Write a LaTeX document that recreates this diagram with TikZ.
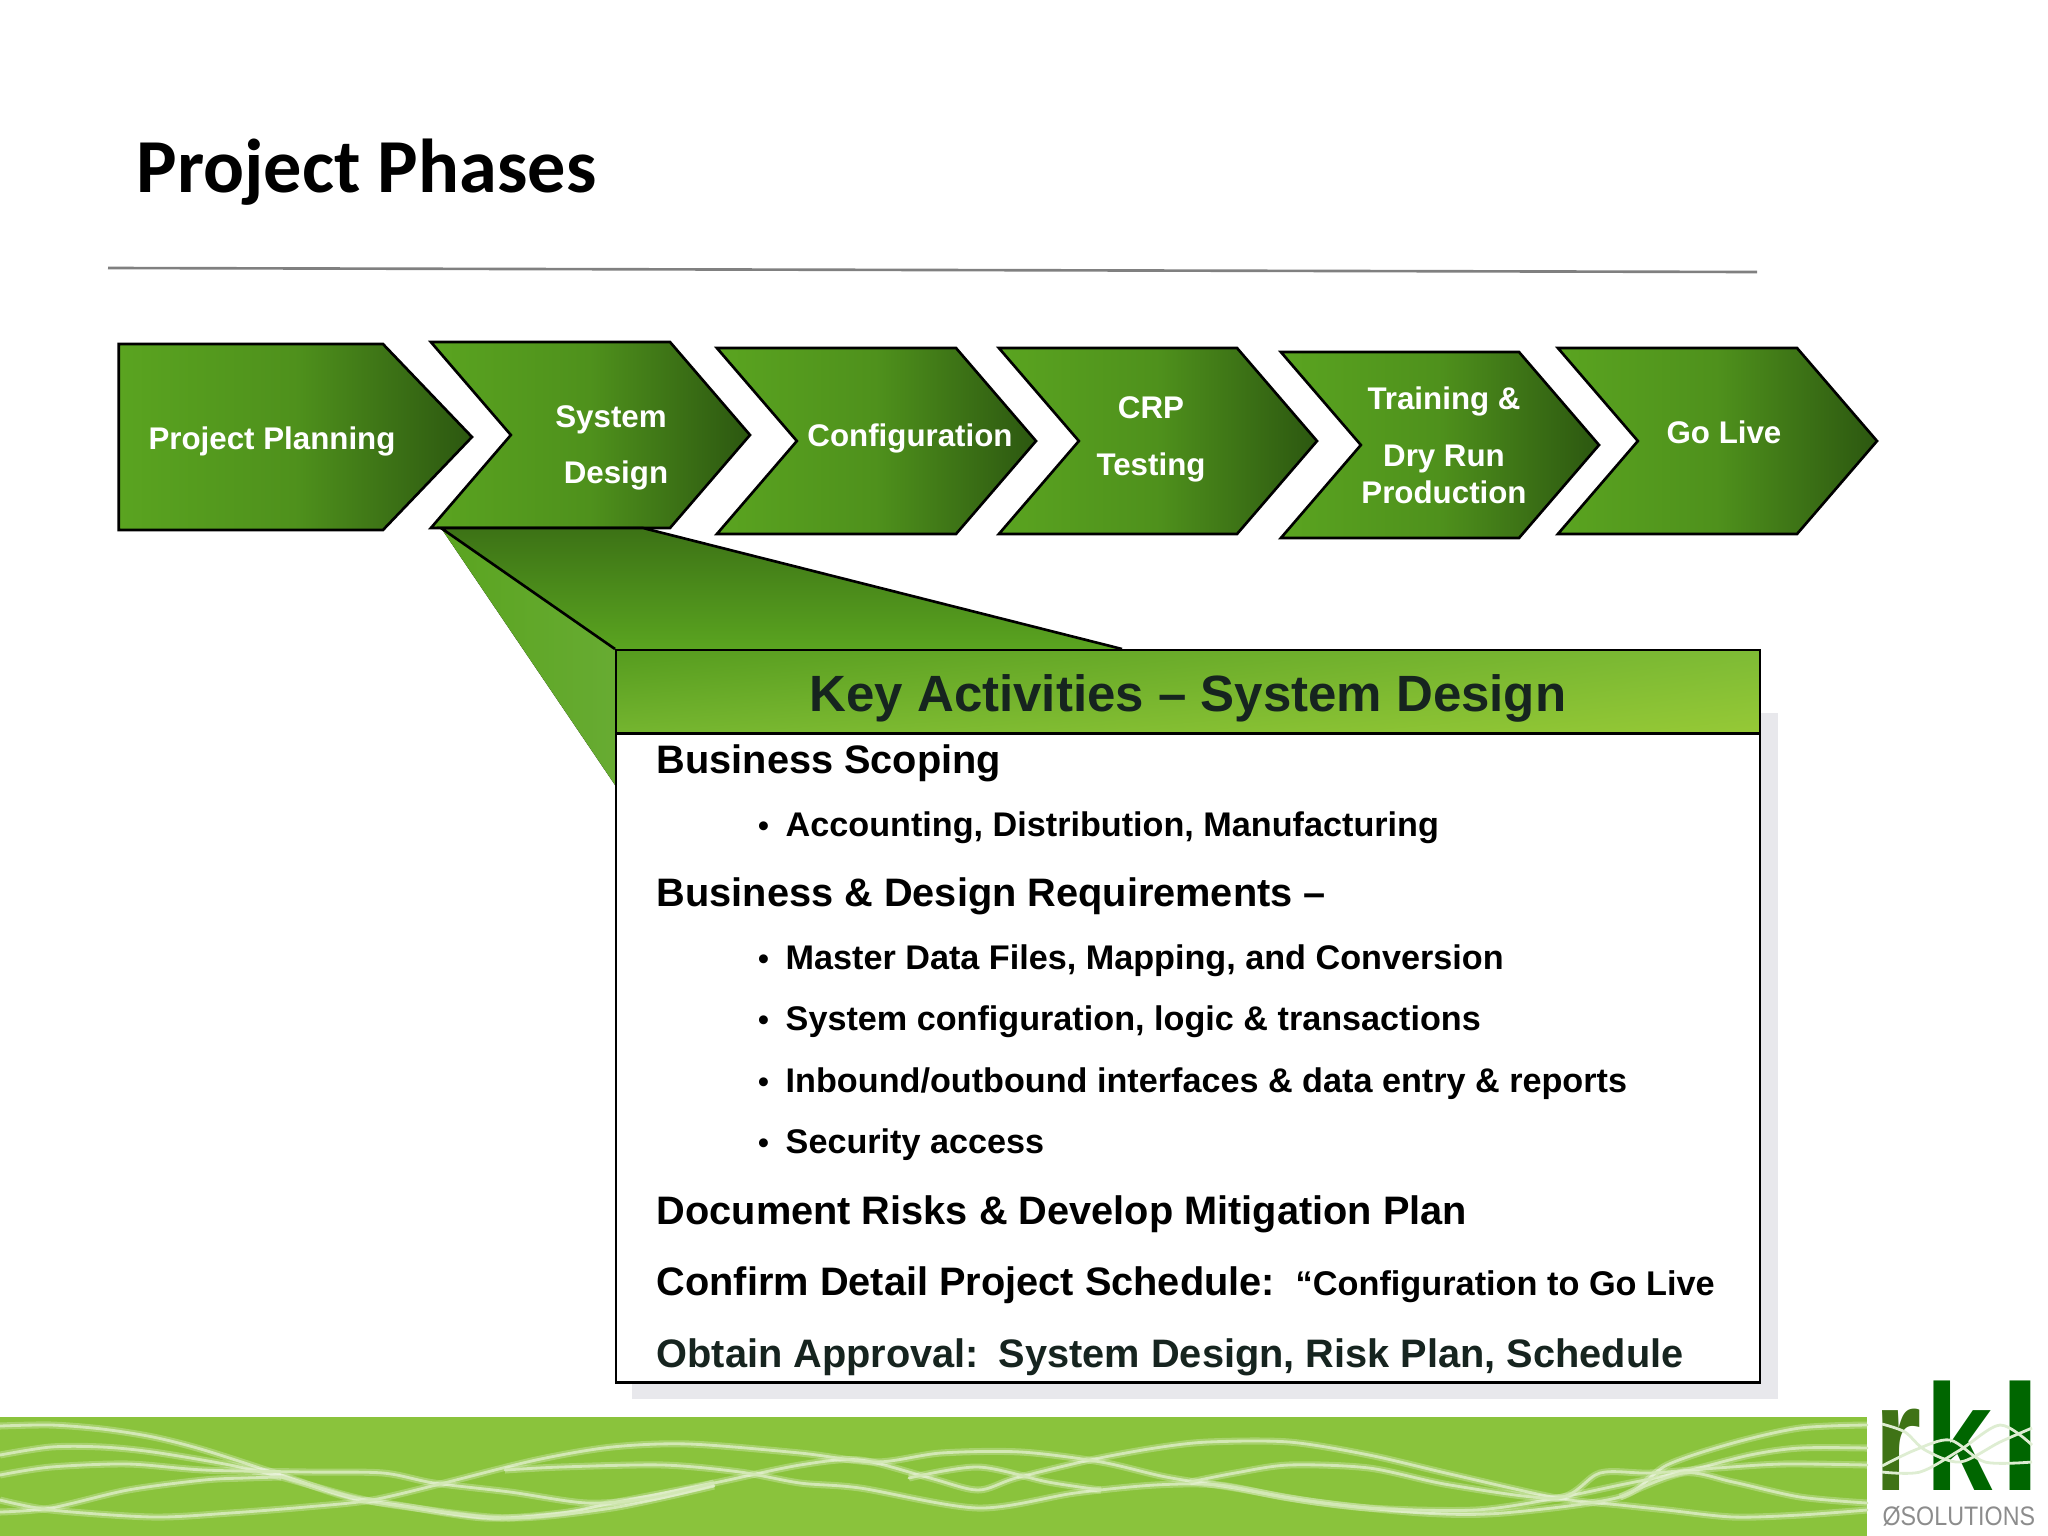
\documentclass[tikz,border=0pt]{standalone}
\usepackage{fontspec}
\setmainfont{Liberation Sans}
\newfontfamily\titlefont{Carlito}
\usepackage{tikz}
\usetikzlibrary{positioning, shapes.symbols, shadings}

\definecolor{leafgreen}{HTML}{5AA420}
\definecolor{pinegreen}{HTML}{2C5710}
\definecolor{barGreen}{HTML}{8AC33C}
\definecolor{headInk}{HTML}{16241F}
\definecolor{shadowGrey}{HTML}{E8E8EC}

\begin{document}
\begin{tikzpicture}[x=0.01cm, y=-0.01cm]

% Define styles
\tikzstyle{phase} = [draw=black, line width=0.75pt, shape=signal, signal to=east, signal from=west, signal pointer angle=98.6, minimum height=1.86cm, inner sep=0pt, outer sep=0pt, left color=leafgreen, right color=pinegreen, middle color=leafgreen!75!pinegreen]
\tikzstyle{phasetext} = [text=white, inner sep=0pt, anchor=base, font=\fontsize{8.9}{10}\selectfont\bfseries]
\tikzstyle{head} = [inner sep=0pt, anchor=base west, font=\fontsize{11.3}{13}\selectfont\bfseries]
\tikzstyle{item} = [inner sep=0pt, anchor=base west, font=\fontsize{9.72}{11}\selectfont\bfseries]
\tikzstyle{wave} = [line width=0.8pt, color=white!62!barGreen, line cap=round, preaction={draw, line width=2pt, color=white, opacity=0.25}]
\tikzstyle{logostreak} = [line width=0.8pt, color=white!80!leafgreen]

\useasboundingbox (0,0) rectangle (2048,1536);

% Title
\node [inner sep=0pt, anchor=base west, font=\fontsize{21.7}{24}\selectfont\titlefont\bfseries] (title) at (136,192) {Project Phases};
\coordinate (ruleL) at (108,268);
\coordinate (ruleR) at (1757,272);
\draw [line width=0.75pt, color=black!50] (ruleL) -- (ruleR);

% Phases
\node [phase, signal from=nowhere, signal pointer angle=92.5, minimum width=3.53cm, anchor=east] (planning) at (472,437) {};
\node [phase, minimum width=3.19cm, anchor=east] (design) at (750,435) {};
\node [phase, minimum width=3.19cm, anchor=east] (config) at (1036,441) {};
\node [phase, minimum width=3.18cm, anchor=east] (crp) at (1317,441) {};
\node [phase, minimum width=3.18cm, anchor=east] (training) at (1599,445) {};
\node [phase, minimum width=3.19cm, anchor=east] (golive) at (1877,441) {};

% Phase labels
\node [phasetext] (planningL) at (272,449) {Project Planning};
\node [phasetext] (designA) at (611,427) {System};
\node [phasetext] (designB) at (616,483) {Design};
\node [phasetext] (configL) at (910,446) {Configuration};
\node [phasetext] (crpA) at (1151,418) {CRP};
\node [phasetext] (crpB) at (1151,475) {Testing};
\node [phasetext] (trainingA) at (1444,409) {Training \&};
\node [phasetext] (trainingB) at (1444,466) {Dry Run};
\node [phasetext] (trainingC) at (1444,503) {Production};
\node [phasetext] (goliveL) at (1724,443) {Go Live};

% Call-out from the second phase to the box
\coordinate (callA) at (441,528);
\coordinate (callB) at (643,528);
\coordinate (callC) at (1122,649);
\coordinate (callD) at (615,649);
\coordinate (callE) at (615,785);
\fill [left color=leafgreen, right color=leafgreen!92!white] (callA) -- (callD) -- (callE) -- cycle;
\fill [top color=leafgreen!35!pinegreen, bottom color=leafgreen] (callA) -- (callB) -- (callC) -- (callD) -- cycle;
\draw [line width=0.75pt] (callD) -- (callA) -- (callB) -- (callC);

% Box with shadow
\fill [color=shadowGrey] (632,713) rectangle (1778,1399);
\node [draw=black, fill=white, line width=0.7pt, inner sep=0pt, anchor=north west, minimum width=11.43cm, minimum height=7.32cm] (box) at (615,649) {};
\node [draw=black, line width=0.7pt, inner sep=0pt, anchor=north west, minimum width=11.43cm, minimum height=0.83cm, upper left=leafgreen!95!black, upper right=barGreen!75!leafgreen, lower left=leafgreen!45!barGreen, lower right=barGreen!90!yellow] (header) at (615,649) {};
\node [text=headInk, inner sep=0pt, anchor=base, font=\fontsize{14.5}{16}\selectfont\bfseries] (headerL) at (1188,711) {Key Activities -- System Design};

% Box text
\node [head] (scoping) at (656,773) {Business Scoping};
\node [item] (accounting) at (785,836) {\llap{\fontsize{8.8}{9}\selectfont•\hspace{4.8pt}}Accounting, Distribution, Manufacturing};
\node [head] (requirements) at (656,906) {Business \& Design Requirements --};
\node [item] (master) at (785,969) {\llap{\fontsize{8.8}{9}\selectfont•\hspace{4.8pt}}Master Data Files, Mapping, and Conversion};
\node [item] (sysconfig) at (785,1030) {\llap{\fontsize{8.8}{9}\selectfont•\hspace{4.8pt}}System configuration, logic \& transactions};
\node [item] (inbound) at (785,1092) {\llap{\fontsize{8.8}{9}\selectfont•\hspace{4.8pt}}Inbound/outbound interfaces \& data entry \& reports};
\node [item] (security) at (785,1153) {\llap{\fontsize{8.8}{9}\selectfont•\hspace{4.8pt}}Security access};
\node [head] (risks) at (656,1224) {Document Risks \& Develop Mitigation Plan};
\node [head] (confirm) at (656,1295) {Confirm Detail Project Schedule:};
\node [item, font=\fontsize{9.75}{11}\selectfont\bfseries] (golivequote) at (1295,1295) {“Configuration to Go Live};
\node [head, text=headInk] (approval) at (656,1367) {Obtain Approval:\hspace{0.5em}System Design, Risk Plan, Schedule};

% Footer bar
\fill [color=barGreen] (0,1417) rectangle (1867,1536);
\draw [wave] plot [smooth] coordinates {(0,1426) (51,1425) (102,1429) (153,1437) (204,1450) (281,1475) (347,1497) (398,1505) (485,1518) (561,1513) (612,1503) (714,1483) (800,1465) (860,1460) (930,1478) (978,1490) (1016,1478) (1090,1460) (1155,1448) (1208,1442) (1289,1442) (1369,1455) (1450,1474) (1557,1498) (1620,1505) (1667,1510) (1733,1517) (1800,1515) (1867,1510)};
\draw [wave] plot [smooth] coordinates {(0,1455) (51,1447) (102,1447) (153,1452) (230,1465) (281,1477) (357,1498) (408,1507) (510,1518) (612,1508) (714,1486)};
\draw [wave] plot [smooth] coordinates {(0,1475) (51,1467) (128,1464) (204,1470) (306,1472) (383,1473) (434,1483) (510,1492) (587,1503) (650,1498) (714,1483)};
\draw [wave] plot [smooth] coordinates {(0,1512) (51,1508) (128,1490) (204,1480) (245,1478) (281,1477)};
\draw [wave] plot [smooth] coordinates {(0,1500) (51,1510) (153,1517) (230,1513) (306,1507) (372,1500) (444,1483) (536,1460) (612,1447) (689,1444) (800,1453) (876,1462) (941,1453) (1021,1452) (1101,1462) (1166,1477) (1235,1488) (1316,1502) (1423,1513) (1503,1513) (1620,1497) (1667,1465) (1733,1443) (1800,1428) (1867,1425)};
\draw [wave] plot [smooth] coordinates {(505,1470) (561,1467) (663,1465) (740,1472) (800,1483) (860,1488) (978,1508) (1075,1493) (1155,1485) (1219,1485) (1289,1498) (1369,1508) (1476,1510) (1557,1498) (1620,1485) (1683,1472) (1750,1455) (1800,1448) (1867,1448)};
\draw [wave] plot [smooth] coordinates {(909,1478) (978,1467) (1048,1482) (1101,1490)};
\draw [wave] plot [smooth] coordinates {(1190,1482) (1235,1473) (1289,1465) (1369,1468) (1450,1485) (1557,1498) (1600,1473) (1650,1473) (1717,1468) (1783,1464) (1867,1465)};
\draw [wave] plot [smooth] coordinates {(1620,1497) (1683,1473) (1733,1482) (1800,1497) (1867,1503)};

% Logo
\node [inner sep=0pt, anchor=base west, text=leafgreen!70!black, xscale=0.8, transform shape, font=\fontsize{43}{44}\selectfont\bfseries] (logoR) at (1874,1490) {r};
\node [inner sep=0pt, anchor=base west, text=green!40!black, xscale=0.8, transform shape, font=\fontsize{43}{44}\selectfont\bfseries] (logoK) at (1925,1490) {k};
\node [inner sep=0pt, anchor=base west, text=green!40!black, font=\fontsize{43}{44}\selectfont\bfseries] (logoL) at (1999,1490) {l};
\draw [logostreak] plot [smooth] coordinates {(1882,1424) (1905,1432) (1925,1450) (1960,1462) (2000,1442) (2032,1428)};
\draw [logostreak] plot [smooth] coordinates {(1882,1466) (1915,1450) (1950,1440) (1985,1462) (2032,1462)};
\draw [logostreak] plot [smooth] coordinates {(1882,1472) (1920,1472) (1960,1450) (2000,1425) (2032,1445)};
\node [inner sep=0pt, anchor=base west, text=black!45, xscale=0.87, transform shape, font=\fontsize{7.6}{9}\selectfont] (logoText) at (1882,1525) {ØSOLUTIONS};

\end{tikzpicture}
\end{document}
